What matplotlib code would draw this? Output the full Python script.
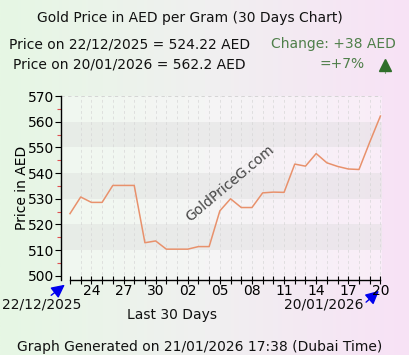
import numpy as np
import matplotlib
matplotlib.use("Agg")
import matplotlib.pyplot as plt
from matplotlib.colors import LinearSegmentedColormap

# ---- data ----
dates = ["22", "23", "24", "25", "26", "27", "28", "29", "30", "31",
         "01", "02", "03", "04", "05", "06", "07", "08", "09", "10",
         "11", "12", "13", "14", "15", "16", "17", "18", "19", "20"]
prices = [524.22, 530.7, 528.6, 528.6, 535.2, 535.2, 535.2, 512.9, 513.6, 510.4,
          510.4, 510.4, 511.4, 511.4, 525.3, 530.0, 526.6, 526.6, 532.3, 532.6,
          532.5, 543.5, 542.7, 547.6, 544.0, 542.6, 541.6, 541.4, 552.0, 562.2]
label_days = ["24", "27", "30", "02", "05", "08", "11", "14", "17", "20"]
yticks = [500, 510, 520, 530, 540, 550, 560, 570]

W, H = 410, 355
fig = plt.figure(figsize=(W / 100, H / 100), dpi=100)

def fx(px):
    return px / W

def fy(py):
    return 1 - py / H

# background gradient
bg = fig.add_axes([0, 0, 1, 1], zorder=-10)
cmap = LinearSegmentedColormap.from_list("bg", ["#e6f7e4", "#f0f0f0", "#f8e2f6"])
bg.imshow(np.linspace(0, 1, 256).reshape(1, -1), aspect="auto", cmap=cmap,
          extent=[0, 1, 0, 1])
bg.set_xlim(0, 1)
bg.set_ylim(0, 1)
bg.set_axis_off()

ax = fig.add_axes([fx(61), fy(280), fx(382) - fx(61), fy(96) - fy(280)])
ax.patch.set_alpha(0)
x = np.arange(len(prices))
ax.set_xlim(-0.84, 29.15)
ax.set_ylim(498.4, 570)

# bands
ax.axhspan(498.4, 570, color="white", alpha=0.35, lw=0, zorder=0)
for lo in [510, 530, 550]:
    ax.axhspan(lo, lo + 10, color="#d8d8d8", alpha=0.35, lw=0, zorder=0)

# grid
for xi in x[1:]:
    ax.axvline(xi, color="#d6d6d6", lw=0.5, ls=(0, (4, 4)), zorder=1)
ax.axhline(570, color="#d0d0d0", lw=0.6, ls=(0, (4, 4)), zorder=1)

ax.plot(x, prices, color="#e8916c", lw=1.1, zorder=3)

ax.text(15.0, 536.0, "GoldPriceG.com", rotation=40, fontsize=10, color="#444444",
        ha="center", va="center", zorder=4)

for s in ["top", "right"]:
    ax.spines[s].set_visible(False)
ax.spines["bottom"].set_bounds(0, 29)
ax.spines["left"].set_bounds(498.4, 570)
ax.spines["bottom"].set_linewidth(1)
ax.spines["left"].set_linewidth(1)

ax.set_xticks(x)
ax.set_xticklabels([d if d in label_days and i >= 2 else "" for i, d in enumerate(dates)],
                   fontsize=10)
ax.tick_params(axis="x", direction="inout", length=6, width=0.8, pad=0)
ax.set_yticks(yticks)
ax.set_yticklabels([str(v) for v in yticks], fontsize=10)
ax.tick_params(axis="y", direction="out", length=4, width=0.8, pad=1)
ax.set_yticks([505, 515, 525, 535, 545, 555, 565], minor=True)
ax.tick_params(axis="y", which="minor", length=3, color="#e05050", width=0.8)
ax.set_ylabel("Price in AED", fontsize=10, labelpad=-1)

# header texts
fig.text(fx(190), fy(18), "Gold Price in AED per Gram (30 Days Chart)", fontsize=10,
         ha="center", va="center", color="#111111")
fig.text(fx(9), fy(44), "Price on 22/12/2025 = 524.22 AED", fontsize=10,
         ha="left", va="center", color="#111111")
fig.text(fx(13), fy(64), "Price on 20/01/2026 = 562.2 AED", fontsize=10,
         ha="left", va="center", color="#111111")
fig.text(fx(396), fy(44), "Change: +38 AED", fontsize=10,
         ha="right", va="center", color="#4f7f4a")
fig.text(fx(365), fy(64), "=+7%", fontsize=10,
         ha="right", va="center", color="#4f7f4a")
bg.plot([fx(385)], [fy(65)], marker="^", markersize=9, color="#2f6e2a", zorder=5)
bg.plot([fx(385), fx(385)], [fy(69), fy(73)], color="#2f6e2a", lw=0.8, ls=":", zorder=5)

# footer texts
fig.text(fx(2), fy(305), "22/12/2025", fontsize=10, ha="left", va="center", color="#111111")
fig.text(fx(364), fy(305), "20/01/2026", fontsize=10, ha="right", va="center", color="#111111")
fig.text(fx(172), fy(315), "Last 30 Days", fontsize=10, ha="center", va="center", color="#111111")
fig.text(fx(200), fy(347), "Graph Generated on 21/01/2026 17:38 (Dubai Time)", fontsize=10,
         ha="center", va="center", color="#111111")

# arrows
bg.annotate("", xy=(fx(67), fy(283)), xytext=(fx(49), fy(297)),
            xycoords="axes fraction", textcoords="axes fraction",
            arrowprops=dict(arrowstyle="-|>", color="#0000ee", lw=1, mutation_scale=20))
bg.annotate("", xy=(fx(381), fy(289)), xytext=(fx(364), fy(304)),
            xycoords="axes fraction", textcoords="axes fraction",
            arrowprops=dict(arrowstyle="-|>", color="#0000ee", lw=1, mutation_scale=20))

fig.savefig("out.png", dpi=100)
